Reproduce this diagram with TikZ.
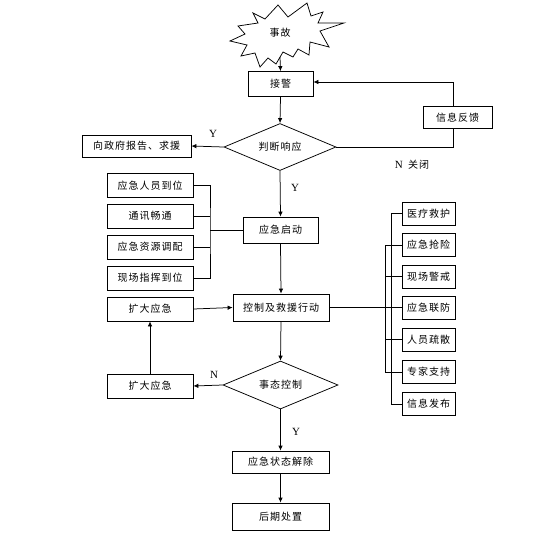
\documentclass[tikz,border=0pt]{standalone}
\usepackage{fontspec}
\newfontfamily\cjk[LetterSpace=10]{Noto Sans CJK SC}
\newfontfamily\lat{Liberation Serif}
\usetikzlibrary{shapes.geometric,arrows.meta}
\tikzset{
  every path/.style={line width=0.75pt},
  box/.style={draw, rectangle, inner sep=0pt, font=\cjk\fontsize{10}{12}\selectfont},
  dia/.style={draw, diamond, aspect=2.4, inner sep=0pt, font=\cjk\fontsize{10}{12}\selectfont},
  lbl/.style={font=\lat\fontsize{11}{13}\selectfont, inner sep=0pt},
  arr/.style={-{Latex[length=5pt,width=4.5pt]}},
}
\begin{document}
\begin{tikzpicture}[x=1pt,y=-1pt]
\useasboundingbox (0,0) rectangle (552,560);
% starburst
\draw (278,5) -- (288,17) -- (307,3) -- (311,16) -- (323,12) -- (318,23) -- (344,23) -- (320,31)
  -- (329,47) -- (310,42) -- (309,55) -- (298,49) -- (293,57) -- (283,52) -- (276,64) -- (268,58)
  -- (260,67) -- (255,53) -- (241,56) -- (247,45) -- (230,41) -- (245,34) -- (238,26) -- (258,23)
  -- (253,13) -- (265,19) -- cycle;
\node[font=\cjk\fontsize{10}{12}\selectfont, inner sep=0pt] (acc) at (280,33) {事故};
\coordinate (burstbot) at (280,57);

\node[box, minimum width=65pt, minimum height=25pt] (jj) at (280.5,84) {接警};
\node[box, minimum width=69pt, minimum height=22pt] (fb) at (457.5,117.5) {信息反馈};
\node[dia, minimum width=112pt, minimum height=47pt] (pd) at (280,147) {判断响应};
\node[box, minimum width=109pt, minimum height=22pt] (gov) at (136.5,146) {向政府报告、求援};

\node[box, minimum width=75pt, minimum height=26pt] (qd) at (280.5,230) {应急启动};
\node[box, minimum width=86pt, minimum height=24pt] (l1) at (150,185.5) {应急人员到位};
\node[box, minimum width=86pt, minimum height=24pt] (l2) at (150,216) {通讯畅通};
\node[box, minimum width=86pt, minimum height=24pt] (l3) at (150,247) {应急资源调配};
\node[box, minimum width=86pt, minimum height=24pt] (l4) at (150,278) {现场指挥到位};
\coordinate (bx) at (210,230);

\node[box, minimum width=96pt, minimum height=27pt] (kz) at (281,307.5) {控制及救援行动};
\node[box, minimum width=53pt, minimum height=23pt] (r1) at (428.5,213.5) {医疗救护};
\node[box, minimum width=53pt, minimum height=23pt] (r2) at (428.5,245) {应急抢险};
\node[box, minimum width=53pt, minimum height=23pt] (r3) at (428.5,276.5) {现场警戒};
\node[box, minimum width=53pt, minimum height=23pt] (r4) at (428.5,307.5) {应急联防};
\node[box, minimum width=53pt, minimum height=23pt] (r5) at (428.5,339.5) {人员疏散};
\node[box, minimum width=53pt, minimum height=23pt] (r6) at (428.5,372) {专家支持};
\node[box, minimum width=53pt, minimum height=23pt] (r7) at (428.5,404) {信息发布};

\node[box, minimum width=86pt, minimum height=24pt] (ky1) at (150,309) {扩大应急};
\node[box, minimum width=86pt, minimum height=24pt] (ky2) at (150,386) {扩大应急};
\node[dia, minimum width=115pt, minimum height=48pt] (sk) at (280.5,385) {事态控制};
\node[box, minimum width=97pt, minimum height=22pt] (jc) at (280.5,462) {应急状态解除};
\node[box, minimum width=97pt, minimum height=27pt] (hq) at (280.5,516.5) {后期处置};

% labels
\node[lbl] (y1) at (213,134) {Y};
\node[lbl] (nclose) at (412,165) {N\ \ {\cjk\fontsize{10}{12}\selectfont 关闭}};
\node[lbl] (y2) at (295,188) {Y};
\node[lbl] (n1) at (214,375) {N};
\node[lbl] (y3) at (296,432) {Y};

% connectors
\draw[arr] (burstbot) -- (jj.north);
\draw[arr] (jj.south) -- (pd.north);
\draw[arr] (pd.west) -- (gov.east);
\draw (pd.east) -| ([xshift=-4.5pt]fb.south);
\draw[arr] ([xshift=-4.5pt]fb.north) |- ([yshift=2pt]jj.east);
\draw[arr] (pd.south) -- (qd.north);
\draw (l1.east) -| (bx) |- (l4.east);
\draw (l2.east) -- (l2.east -| bx);
\draw (l3.east) -- (l3.east -| bx);
\draw (bx) -- (qd.west);
\draw[arr] (qd.south) -- (kz.north);
\draw (kz.east) -- (r4.west);
\draw (r1.west) -- ++(-10,0) |- (r7.west);
\draw (r2.west) -- ++(-16,0) |- (r6.west);
\draw (r3.west) -- ++(-16,0);
\draw (r5.west) -- ++(-16,0);
\draw[arr] (ky1.east) -- (kz.west);
\draw[arr] (kz.south) -- (sk.north);
\draw[arr] (sk.west) -- (ky2.east);
\draw[arr] (ky2.north) -- (ky1.south);
\draw[arr] (sk.south) -- (jc.north);
\draw[arr] (jc.south) -- (hq.north);
\end{tikzpicture}
\end{document}
